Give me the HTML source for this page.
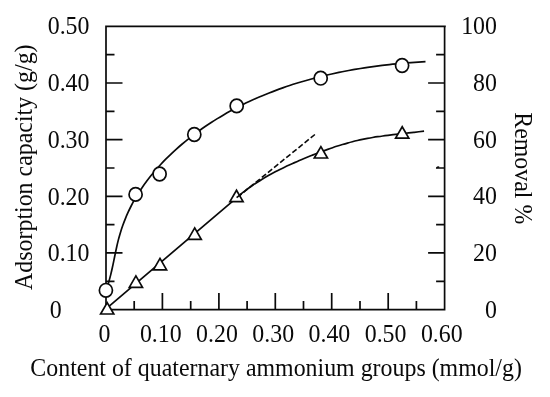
<!DOCTYPE html>
<html><head><meta charset="utf-8"><title>chart</title>
<style>html,body{margin:0;padding:0;background:#fff}svg{display:block}</style></head>
<body>
<svg width="550" height="397" viewBox="0 0 550 397">
<rect width="550" height="397" fill="#fff"/>
<g stroke="#0a0a0a" stroke-width="1.7" fill="none" stroke-linecap="butt">
<path d="M106.0 309.6 V26.3 H445.8 M444.6 26.3 V309.6 H105.2"/>
<path d="M106.0 281.3 h8.5 M444.6 281.3 h-8.5 M106.0 252.9 h16.5 M444.6 252.9 h-16.5 M106.0 224.6 h8.5 M444.6 224.6 h-8.5 M106.0 196.3 h16.5 M444.6 196.3 h-16.5 M106.0 168.0 h8.5 M444.6 168.0 h-8.5 M106.0 139.6 h16.5 M444.6 139.6 h-16.5 M106.0 111.3 h8.5 M444.6 111.3 h-8.5 M106.0 83.0 h16.5 M444.6 83.0 h-16.5 M106.0 54.6 h8.5 M444.6 54.6 h-8.5 M134.2 309.6 v-8.5 M162.4 309.6 v-16.5 M190.7 309.6 v-8.5 M218.9 309.6 v-16.5 M247.1 309.6 v-8.5 M275.3 309.6 v-16.5 M303.5 309.6 v-8.5 M331.7 309.6 v-16.5 M360.0 309.6 v-8.5 M388.2 309.6 v-16.5 M416.4 309.6 v-8.5"/>
<path d="M106.37 289.01 C107.22 286.76 107.98 284.47 108.68 282.17 C109.38 279.86 110.02 277.52 110.61 275.16 C111.20 272.81 111.75 270.43 112.27 268.05 C112.80 265.66 113.29 263.26 113.78 260.86 C114.27 258.46 114.76 256.06 115.25 253.66 C115.74 251.26 116.25 248.87 116.78 246.49 C117.32 244.10 117.88 241.74 118.49 239.39 C119.11 237.04 119.77 234.71 120.47 232.41 C121.18 230.10 121.94 227.81 122.74 225.55 C123.54 223.29 124.39 221.04 125.29 218.82 C126.19 216.60 127.14 214.40 128.14 212.23 C129.13 210.05 130.18 207.89 131.27 205.76 C132.36 203.63 133.50 201.52 134.69 199.44 C135.88 197.35 137.12 195.29 138.40 193.25 C139.69 191.21 141.01 189.20 142.38 187.21 C143.75 185.22 145.16 183.25 146.62 181.31 C148.07 179.37 149.56 177.45 151.08 175.56 C152.61 173.66 154.18 171.80 155.77 169.95 C157.37 168.11 159.00 166.29 160.66 164.50 C162.33 162.71 164.02 160.94 165.74 159.20 C167.46 157.46 169.21 155.74 170.99 154.05 C172.76 152.36 174.56 150.70 176.39 149.07 C178.21 147.43 180.06 145.82 181.92 144.24 C183.79 142.66 185.67 141.10 187.58 139.57 C189.48 138.04 191.40 136.54 193.34 135.07 C195.27 133.60 197.22 132.15 199.19 130.73 C201.16 129.31 203.14 127.92 205.14 126.55 C207.14 125.18 209.16 123.84 211.19 122.52 C213.21 121.21 215.26 119.92 217.32 118.65 C219.37 117.39 221.45 116.15 223.53 114.93 C225.62 113.72 227.72 112.53 229.83 111.36 C231.94 110.20 234.07 109.06 236.21 107.94 C238.34 106.82 240.49 105.73 242.65 104.66 C244.82 103.59 246.99 102.55 249.18 101.52 C251.36 100.50 253.56 99.50 255.77 98.52 C257.97 97.55 260.19 96.59 262.42 95.66 C264.65 94.73 266.89 93.82 269.13 92.93 C271.38 92.05 273.64 91.18 275.91 90.34 C278.17 89.49 280.45 88.67 282.73 87.87 C285.02 87.07 287.31 86.28 289.61 85.52 C291.91 84.76 294.22 84.02 296.54 83.31 C298.85 82.59 301.18 81.89 303.51 81.21 C305.84 80.53 308.17 79.87 310.52 79.23 C312.86 78.59 315.21 77.97 317.57 77.37 C319.92 76.76 322.28 76.18 324.65 75.62 C327.01 75.05 329.39 74.50 331.76 73.98 C334.14 73.45 336.52 72.94 338.90 72.45 C341.29 71.95 343.68 71.48 346.07 71.02 C348.46 70.56 350.85 70.12 353.25 69.70 C355.65 69.28 358.05 68.87 360.46 68.48 C362.86 68.09 365.26 67.71 367.67 67.36 C370.08 67.00 372.49 66.66 374.90 66.33 C377.31 66.00 379.72 65.69 382.13 65.40 C384.55 65.10 386.96 64.82 389.37 64.55 C391.78 64.29 394.20 64.04 396.61 63.80 C399.02 63.56 401.43 63.34 403.85 63.13 C406.26 62.92 408.67 62.72 411.07 62.54 C413.48 62.36 415.89 62.19 418.29 62.04 C420.70 61.88 423.10 61.74 425.50 61.61"/>
<path d="M106 308.9 L236.60 197.80 C237.91 196.63 239.24 195.50 240.58 194.39 C241.92 193.28 243.28 192.19 244.65 191.13 C246.02 190.07 247.41 189.03 248.81 188.02 C250.21 187.00 251.62 186.00 253.04 185.03 C254.47 184.06 255.91 183.11 257.36 182.17 C258.81 181.24 260.27 180.33 261.74 179.43 C263.21 178.54 264.69 177.66 266.19 176.80 C267.68 175.94 269.18 175.10 270.70 174.27 C272.21 173.45 273.73 172.64 275.26 171.84 C276.79 171.04 278.33 170.26 279.87 169.49 C281.42 168.73 282.97 167.97 284.53 167.23 C286.09 166.48 287.65 165.75 289.22 165.03 C290.80 164.31 292.37 163.60 293.95 162.90 C295.54 162.20 297.12 161.51 298.71 160.83 C300.31 160.14 301.90 159.47 303.50 158.80 C305.10 158.13 306.70 157.47 308.30 156.82 C309.91 156.16 311.51 155.52 313.12 154.88 C314.73 154.24 316.35 153.62 317.96 153.00 C319.58 152.38 321.20 151.77 322.82 151.17 C324.44 150.56 326.07 149.97 327.70 149.39 C329.32 148.81 330.95 148.24 332.59 147.69 C334.22 147.13 335.86 146.59 337.50 146.06 C339.14 145.53 340.78 145.01 342.43 144.52 C344.08 144.02 345.73 143.53 347.38 143.07 C349.04 142.60 350.70 142.15 352.37 141.73 C354.03 141.30 355.70 140.89 357.37 140.50 C359.05 140.11 360.73 139.74 362.41 139.39 C364.10 139.05 365.79 138.72 367.48 138.40 C369.17 138.09 370.87 137.79 372.57 137.51 C374.27 137.23 375.97 136.96 377.68 136.71 C379.38 136.45 381.09 136.21 382.80 135.98 C384.51 135.74 386.23 135.52 387.94 135.30 C389.66 135.09 391.38 134.88 393.10 134.68 C394.81 134.48 396.53 134.28 398.26 134.09 C399.98 133.89 401.70 133.70 403.42 133.51 C405.14 133.32 406.86 133.14 408.58 132.95 C410.30 132.76 412.03 132.57 413.75 132.37 C415.47 132.18 417.19 131.98 418.90 131.78 C420.62 131.57 422.34 131.36 424.05 131.15" stroke-linejoin="round"/>
<path d="M314.9 134.5 L236.5 198" stroke-dasharray="5.4 2.46" stroke-width="1.6"/>
</g>
<path d="M435.8 168.6 l1.2 -2 l2.2 -0.4 v1.6 z" fill="#0a0a0a"/>
<g stroke="#0a0a0a" stroke-width="1.7" fill="#fff" stroke-linejoin="miter">
<ellipse cx="105.9" cy="290.3" rx="6.55" ry="6.8"/>
<ellipse cx="135.6" cy="194.4" rx="6.55" ry="6.8"/>
<ellipse cx="159.6" cy="174.0" rx="6.55" ry="6.8"/>
<ellipse cx="194.3" cy="134.5" rx="6.55" ry="6.8"/>
<ellipse cx="236.7" cy="105.9" rx="6.55" ry="6.8"/>
<ellipse cx="320.7" cy="78.2" rx="6.55" ry="6.8"/>
<ellipse cx="402.1" cy="65.5" rx="6.55" ry="6.8"/>
<path d="M107.2 302.6 l6.6 11.4 h-13.2 z"/>
<path d="M135.9 275.9 l6.6 11.4 h-13.2 z"/>
<path d="M160.0 258.4 l6.6 11.4 h-13.2 z"/>
<path d="M194.7 227.9 l6.6 11.4 h-13.2 z"/>
<path d="M236.5 190.2 l6.6 11.4 h-13.2 z"/>
<path d="M320.9 146.6 l6.6 11.4 h-13.2 z"/>
<path d="M402.2 126.7 l6.6 11.4 h-13.2 z"/>
</g>
<path d="M236.6 197.7 L241.5 193.8" stroke="#0a0a0a" stroke-width="1.7" fill="none"/>
<g font-family="'Liberation Serif', 'Times New Roman', serif" font-size="23.9" fill="#0a0a0a">
<text transform="translate(49.8 317.5) scale(1 1.085)" text-anchor="start">0</text>
<text transform="translate(89.5 261.4) scale(1 1.085)" text-anchor="end">0.10</text>
<text transform="translate(89.5 204.6) scale(1 1.085)" text-anchor="end">0.20</text>
<text transform="translate(89.5 148.1) scale(1 1.085)" text-anchor="end">0.30</text>
<text transform="translate(89.5 90.8) scale(1 1.085)" text-anchor="end">0.40</text>
<text transform="translate(89.5 34.2) scale(1 1.085)" text-anchor="end">0.50</text>
<text transform="translate(497.0 317.7) scale(1 1.085)" text-anchor="end">0</text>
<text transform="translate(497.0 261.0) scale(1 1.085)" text-anchor="end">20</text>
<text transform="translate(497.0 204.4) scale(1 1.085)" text-anchor="end">40</text>
<text transform="translate(497.0 147.7) scale(1 1.085)" text-anchor="end">60</text>
<text transform="translate(497.0 91.1) scale(1 1.085)" text-anchor="end">80</text>
<text transform="translate(497.0 34.4) scale(1 1.085)" text-anchor="end">100</text>
<text transform="translate(104.6 341.8) scale(1 1.085)" text-anchor="middle">0</text>
<text transform="translate(160.8 341.8) scale(1 1.085)" text-anchor="middle">0.10</text>
<text transform="translate(217.0 341.8) scale(1 1.085)" text-anchor="middle">0.20</text>
<text transform="translate(273.2 341.8) scale(1 1.085)" text-anchor="middle">0.30</text>
<text transform="translate(329.4 341.8) scale(1 1.085)" text-anchor="middle">0.40</text>
<text transform="translate(385.6 341.8) scale(1 1.085)" text-anchor="middle">0.50</text>
<text transform="translate(441.8 341.8) scale(1 1.085)" text-anchor="middle">0.60</text>
<text transform="translate(276.1 376.4) scale(1 1.085)" text-anchor="middle">Content of quaternary ammonium groups (mmol/g)</text>
<text transform="translate(31.8 167.2) rotate(-90) scale(1 1.05)" text-anchor="middle">Adsorption capacity (g/g)</text>
<text transform="translate(515.3 168.3) rotate(90) scale(1 1.015)" text-anchor="middle">Removal %</text>
</g>
</svg>
</body></html>
